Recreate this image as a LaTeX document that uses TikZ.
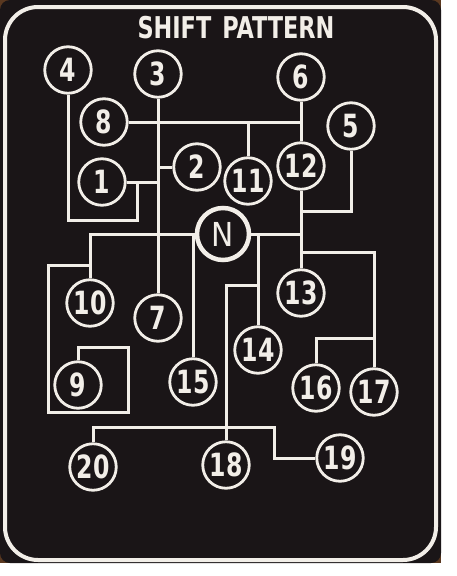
\documentclass[tikz,border=0pt]{standalone}
\usepackage{fontspec}
\newfontfamily\numfont{DejaVu Sans Condensed}
\definecolor{plate}{HTML}{1A1517}
\definecolor{ink}{HTML}{F2EEE8}
\definecolor{rim}{HTML}{5A3820}
\newcommand{\gearnum}[1]{\scalebox{0.82}[1]{#1}}
\tikzset{
  gear/.style={circle, draw=ink, line width=2.8pt, minimum size=46.5pt, inner sep=0pt, text=ink, font=\numfont\bfseries\fontsize{32}{32}\selectfont},
  neutral/.style={gear, line width=4.5pt, minimum size=52pt, font=\numfont\fontsize{33}{33}\selectfont},
  wire/.style={draw=ink, line width=3pt, line join=miter},
}
\begin{document}
\begin{tikzpicture}[x=1pt,y=-1pt]
\useasboundingbox (0,0) rectangle (456,576);
\fill[white] (0,0) rectangle (456,576);
\fill[rim] (0,0) rectangle (441,563);
\fill[plate, rounded corners=10pt] (0,0) rectangle (441,563);
\draw[ink, line width=4pt, rounded corners=33pt] (5,7) rectangle (436,560);
\node[text=ink, font=\numfont\bfseries\fontsize{30}{30}\selectfont, anchor=base] (title) at (236,38) {\scalebox{0.83}[1]{SHIFT\hspace{0.45em}PATTERN}};

% gears
\node[gear] (g4) at (68,70) {\gearnum{4}};
\node[gear] (g3) at (158,74) {\gearnum{3}};
\node[gear] (g6) at (301,77) {\gearnum{6}};
\node[gear] (g8) at (104,122) {\gearnum{8}};
\node[gear] (g5) at (351,126) {\gearnum{5}};
\node[gear] (g2) at (197,167) {\gearnum{2}};
\node[gear] (g11) at (248,181) {\gearnum{11}};
\node[gear] (g12) at (301,166) {\gearnum{12}};
\node[gear] (g1) at (102,182) {\gearnum{1}};
\node[neutral] (gN) at (223,234) {N};
\node[gear] (g10) at (90,303) {\gearnum{10}};
\node[gear] (g7) at (158,318) {\gearnum{7}};
\node[gear] (g13) at (301,293) {\gearnum{13}};
\node[gear] (g14) at (258,350) {\gearnum{14}};
\node[gear] (g15) at (193,382) {\gearnum{15}};
\node[gear] (g9) at (78,385) {\gearnum{9}};
\node[gear] (g16) at (316,388) {\gearnum{16}};
\node[gear] (g17) at (374,392) {\gearnum{17}};
\node[gear] (g20) at (93,467) {\gearnum{20}};
\node[gear] (g18) at (226,465) {\gearnum{18}};
\node[gear] (g19) at (340,458) {\gearnum{19}};

% junctions
\coordinate (j1) at (158,182);
\coordinate (j2) at (158,167);
\coordinate (j8) at (301,122);
\coordinate (j11) at (248,122);
\coordinate (j4) at (137,182);
\coordinate (j5) at (301,211);
\coordinate (jNL) at (90,234);
\coordinate (jNR) at (301,234);
\coordinate (j9) at (90,265);
\coordinate (j15) at (193,234);
\coordinate (j14) at (258,234);
\coordinate (j18) at (258,285);
\coordinate (j17) at (301,252);
\coordinate (j16) at (374,338);

% wires
\draw[wire] (g4.south) -- (68,220) -- (137,220) -- (j4);
\draw[wire] (g1.east) -- (j1);
\draw[wire] (g3.south) -- (g7.north);
\draw[wire] (g2.west) -- (j2);
\draw[wire] (g8.east) -- (j8);
\draw[wire] (g11.north) -- (j11);
\draw[wire] (g6.south) -- (g12.north);
\draw[wire] (g12.south) -- (g13.north);
\draw[wire] (g5.south) -- (351,211) -- (j5);
\draw[wire] (gN.west) -- (jNL) -- (g10.north);
\draw[wire] (g9.north) -- (78,347) -- (128,347) -- (128,412) -- (48,412) -- (48,265) -- (j9);
\draw[wire] (j15) -- (g15.north);
\draw[wire] (gN.east) -- (jNR);
\draw[wire] (j14) -- (g14.north);
\draw[wire] (j18) -- (226,285) -- (g18.north);
\draw[wire] (j17) -- (374,252) -- (g17.north);
\draw[wire] (j16) -- (316,338) -- (g16.north);
\draw[wire] (g20.north) -- (93,427) -- (274,427) -- (274,458) -- (g19.west);
\end{tikzpicture}
\end{document}
